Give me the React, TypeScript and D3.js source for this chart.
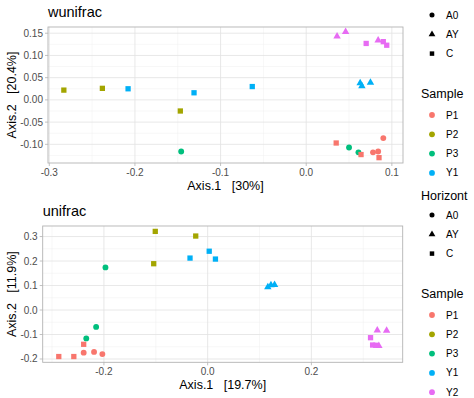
import React from 'react';
import * as d3 from 'd3';

const sampleNames = ['P1', 'P2', 'P3', 'Y1', 'Y2'];
const sampleColors = ['#F8766D', '#A3A500', '#00BF7D', '#00B0F6', '#E76BF3'];
const horizonNames = ['A0', 'AY', 'C'];

// wunifrac ordination
const wSample = ['P2', 'P2', 'P2', 'Y1', 'Y1', 'Y1', 'P3', 'P3', 'P3', 'Y1', 'Y1', 'Y1',
  'Y2', 'Y2', 'Y2', 'Y2', 'Y2', 'Y2', 'P1', 'P1', 'P1', 'P1', 'P1', 'P1'];
const wHorizon = ['C', 'C', 'C', 'C', 'C', 'C', 'A0', 'A0', 'A0', 'AY', 'AY', 'AY',
  'AY', 'AY', 'AY', 'C', 'C', 'C', 'C', 'C', 'C', 'A0', 'A0', 'A0'];
const wX = [-0.283, -0.238, -0.147, -0.208, -0.131, -0.063, -0.146, 0.050, 0.061, 0.063, 0.065, 0.075,
  0.036, 0.046, 0.084, 0.070, 0.090, 0.094, 0.035, 0.064, 0.085, 0.090, 0.078, 0.084];
const wY = [0.022, 0.026, -0.025, 0.025, 0.016, 0.030, -0.116, -0.107, -0.118, 0.038, 0.031, 0.039,
  0.143, 0.153, 0.134, 0.127, 0.131, 0.123, -0.097, -0.123, -0.130, -0.086, -0.118, -0.116];

// unifrac ordination
const uSample = ['P1', 'P1', 'P1', 'P1', 'P1', 'P1', 'P3', 'P3', 'P3', 'P2', 'P2', 'P2',
  'Y1', 'Y1', 'Y1', 'Y1', 'Y1', 'Y1', 'Y2', 'Y2', 'Y2', 'Y2', 'Y2', 'Y2'];
const uHorizon = ['C', 'C', 'C', 'A0', 'A0', 'A0', 'A0', 'A0', 'A0', 'C', 'C', 'C',
  'C', 'C', 'C', 'AY', 'AY', 'AY', 'AY', 'AY', 'AY', 'C', 'C', 'C'];
const uX = [-0.287, -0.258, -0.239, -0.239, -0.219, -0.203, -0.234, -0.215, -0.197, -0.101, -0.104, -0.023,
  -0.034, 0.003, 0.015, 0.116, 0.122, 0.129, 0.327, 0.345, 0.330, 0.314, 0.318, 0.324];
const uY = [-0.190, -0.190, -0.140, -0.174, -0.171, -0.180, -0.116, -0.069, 0.174, 0.321, 0.189, 0.302,
  0.212, 0.240, 0.208, 0.094, 0.102, 0.103, -0.083, -0.084, -0.146, -0.113, -0.143, -0.144];

const wXTicks = [-0.3, -0.2, -0.1, 0, 0.1];
const wYTicks = [-0.1, -0.05, 0, 0.05, 0.1, 0.15];
const uXTicks = [-0.2, 0, 0.2];
const uYTicks = [-0.2, -0.1, 0, 0.1, 0.2, 0.3];

const font = '"Liberation Sans", Arial, sans-serif';
const colorOf = d3.scaleOrdinal<string, string>().domain(sampleNames).range(sampleColors);
const shapeOf = d3.scaleOrdinal<string, d3.SymbolType>()
  .domain(horizonNames)
  .range([d3.symbolCircle, d3.symbolTriangle, d3.symbolSquare]);
const sizeOf: Record<string, number> = { A0: 27, AY: 24, C: 28 };

const Panel = ({ title, xs, ys, samples, horizons, xDomain, yDomain, left, top, right, bottom,
  xTicks, yTicks, xDigits, yDigits, xTitle, yTitle }: any) => {
  const x = d3.scaleLinear().domain(xDomain).range([left, right]);
  const y = d3.scaleLinear().domain(yDomain).range([bottom, top]);
  const xStep = xTicks[1] - xTicks[0];
  const yStep = yTicks[1] - yTicks[0];
  const xMinor = d3.range(xTicks[0] - xStep / 2, xDomain[1], xStep).filter(v => v > xDomain[0]);
  const yMinor = d3.range(yTicks[0] - yStep / 2, yDomain[1], yStep).filter(v => v > yDomain[0]);
  const sym = d3.symbol();
  return (
    <g>
      <text x={left} y={top - 10} fontSize={14.5} fill="#000">{title}</text>
      {xMinor.map((v: number, i: number) => (
        <line key={'xm' + i} x1={x(v)} x2={x(v)} y1={top} y2={bottom} stroke="#efefef" strokeWidth={0.5} />
      ))}
      {yMinor.map((v: number, i: number) => (
        <line key={'ym' + i} y1={y(v)} y2={y(v)} x1={left} x2={right} stroke="#efefef" strokeWidth={0.5} />
      ))}
      {xTicks.map((v: number, i: number) => (
        <g key={'xt' + i}>
          <line x1={x(v)} x2={x(v)} y1={top} y2={bottom} stroke="#e2e2e2" strokeWidth={0.8} />
          <line x1={x(v)} x2={x(v)} y1={bottom} y2={bottom + 3} stroke="#b3b3b3" strokeWidth={0.8} />
          <text x={x(v)} y={bottom + 13} fontSize={10} fill="#4d4d4d" textAnchor="middle">{v.toFixed(xDigits)}</text>
        </g>
      ))}
      {yTicks.map((v: number, i: number) => (
        <g key={'yt' + i}>
          <line y1={y(v)} y2={y(v)} x1={left} x2={right} stroke="#e2e2e2" strokeWidth={0.8} />
          <line y1={y(v)} y2={y(v)} x1={left - 3} x2={left} stroke="#b3b3b3" strokeWidth={0.8} />
          <text x={left - 5} y={y(v)} dy="0.35em" fontSize={10} fill="#4d4d4d" textAnchor="end">{v.toFixed(yDigits)}</text>
        </g>
      ))}
      <rect x={left} y={top} width={right - left} height={bottom - top} fill="none" stroke="#b3b3b3" strokeWidth={0.9} />
      {xs.map((v: number, i: number) => (
        <path key={'p' + i} transform={`translate(${x(v)},${y(ys[i])})`}
          d={sym.type(shapeOf(horizons[i])).size(sizeOf[horizons[i]])() as string}
          fill={colorOf(samples[i])} />
      ))}
      <text x={(left + right) / 2} y={bottom + 27} fontSize={12.5} textAnchor="middle" fill="#000" style={{ whiteSpace: 'pre' }}>{xTitle}</text>
      <text transform={`translate(16,${(top + bottom) / 2}) rotate(-90)`} fontSize={12.5} textAnchor="middle" fill="#000" style={{ whiteSpace: 'pre' }}>{yTitle}</text>
    </g>
  );
};

const Legend = ({ top, showTitle, samples }: any) => {
  const sym = d3.symbol();
  return (
    <g>
      {showTitle && <text x={421} y={top - 15} fontSize={12.5} fill="#000">Horizont</text>}
      {horizonNames.map((h, i) => (
        <g key={h}>
          <path transform={`translate(432,${top + i * 19.3})`} d={sym.type(shapeOf(h)).size(20)() as string} fill="#000" />
          <text x={446} y={top + i * 19.3} dy="0.35em" fontSize={10} fill="#000">{h}</text>
        </g>
      ))}
      <text x={421} y={top + 79} dy="0.35em" fontSize={12.5} fill="#000">Sample</text>
      {samples.map((s: string, i: number) => (
        <g key={s}>
          <circle cx={432} cy={top + 100 + i * 19.3} r={2.9} fill={colorOf(s)} />
          <text x={446} y={top + 100 + i * 19.3} dy="0.35em" fontSize={10} fill="#000">{s}</text>
        </g>
      ))}
    </g>
  );
};

export default function App() {
  return (
    <svg width={474} height={398} style={{ position: 'absolute', left: 0, top: 0, fontFamily: font }}>
      <rect width={474} height={398} fill="#fff" />
      <Panel title="wunifrac" xs={wX} ys={wY} samples={wSample} horizons={wHorizon}
        xDomain={[-0.3015, 0.113]} yDomain={[-0.142, 0.164]}
        left={48} top={27} right={403} bottom={163}
        xTicks={wXTicks} yTicks={wYTicks} xDigits={1} yDigits={2}
        xTitle={'Axis.1   [30%]'} yTitle={'Axis.2   [20.4%]'} />
      <Panel title="unifrac" xs={uX} ys={uY} samples={uSample} horizons={uHorizon}
        xDomain={[-0.318, 0.376]} yDomain={[-0.2135, 0.343]}
        left={42.7} top={226} right={402.7} bottom={362.3}
        xTicks={uXTicks} yTicks={uYTicks} xDigits={1} yDigits={1}
        xTitle={'Axis.1   [19.7%]'} yTitle={'Axis.2   [11.9%]'} />
      <Legend top={15} showTitle={false} samples={['P1', 'P2', 'P3', 'Y1']} />
      <Legend top={215} showTitle={true} samples={sampleNames} />
    </svg>
  );
}
